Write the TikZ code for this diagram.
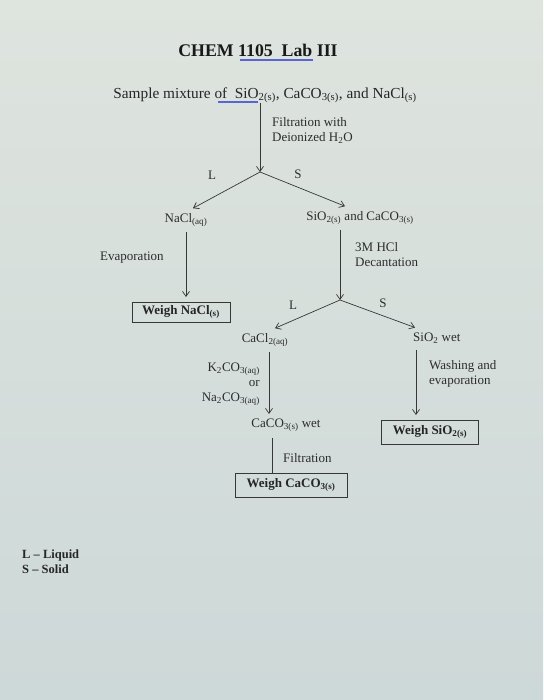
\documentclass[tikz,border=0pt]{standalone}
\usepackage{fontspec}
\setmainfont{Liberation Serif}
\usetikzlibrary{arrows.meta}
\definecolor{bg}{RGB}{222,228,222}
\definecolor{bgb}{RGB}{205,216,216}
\definecolor{ink}{RGB}{55,55,55}
\definecolor{spell}{RGB}{90,100,210}
\tikzset{
  lbl/.style={inner sep=0pt, text=ink!80!black, font=\fontsize{13}{15}\selectfont},
  main/.style={inner sep=0pt, text=black!85, font=\fontsize{15.3}{17}\selectfont},
  wbox/.style={draw=ink, line width=0.8pt, minimum height=20pt, inner xsep=6pt, text=black!85, font=\bfseries\fontsize{13}{15}\selectfont},
  flow/.style={draw=ink, line width=0.7pt, -{Straight Barb[length=5pt,width=7pt]}},
  plain/.style={draw=ink, line width=0.7pt},
}
\begin{document}
\begin{tikzpicture}[x=1pt,y=-1pt]
\shade[top color=bg, bottom color=bgb] (0,0) rectangle (543,700);
\useasboundingbox (0,0) rectangle (543,700);

\node[inner sep=0pt, text=black!90, font=\bfseries\fontsize{17.8}{20}\selectfont] (title) at (258,50) {CHEM 1105\ \ Lab III};
\draw[spell, line width=1.6pt] (240,60) -- (313,60);

\node[main] (mix) at (265,95) {Sample mixture of\ \ SiO\textsubscript{2(s)}, CaCO\textsubscript{3(s)}, and NaCl\textsubscript{(s)}};
\draw[spell, line width=1.4pt] (218,102) -- (258,102);

\coordinate (j1) at (260,172);
\draw[flow] (260,103) -- (j1);
\node[lbl, anchor=north west, align=left] (filt) at (272,117) {Filtration with\\Deionized H\textsubscript{2}O};
\node[lbl] (L1) at (212,175) {L};
\node[lbl] (S1) at (298,174) {S};

\node[lbl] (nacl) at (186,220) {NaCl\textsubscript{(aq)}};
\node[lbl] (sc) at (360,218) {SiO\textsubscript{2(s)} and CaCO\textsubscript{3(s)}};
\draw[flow] (j1) -- ([xshift=7pt,yshift=5pt]nacl.north);
\draw[flow] (j1) -- ([xshift=-15pt,yshift=5pt]sc.north);

\node[lbl, anchor=west] (evap) at (100,258) {Evaporation};
\node[wbox, minimum width=98pt] (wnacl) at (181,312) {Weigh NaCl\textsubscript{(s)}};
\draw[flow] (186,232) -- (186,297);

\node[lbl, anchor=north west, align=left] (hcl) at (355,242) {3M HCl\\Decantation};
\coordinate (j2) at (340,300);
\draw[flow] (340,230) -- (j2);
\node[lbl] (L2) at (293,305) {L};
\node[lbl] (S2) at (383,303) {S};

\node[lbl] (cacl) at (265,340) {CaCl\textsubscript{2(aq)}};
\node[lbl, anchor=west] (swet) at (413,338) {SiO\textsubscript{2} wet};
\draw[flow] (j2) -- ([xshift=10pt,yshift=5pt]cacl.north);
\draw[flow] (j2) -- ([xshift=2pt,yshift=5pt]swet.north west);

\node[lbl, anchor=east, align=right] (reag) at (260,384) {K\textsubscript{2}CO\textsubscript{3(aq)}\\or\\Na\textsubscript{2}CO\textsubscript{3(aq)}};
\node[lbl] (cwet) at (286,425) {CaCO\textsubscript{3(s)} wet};
\draw[flow] (269,352) -- (269,414);

\node[lbl, anchor=north west, align=left] (wash) at (429,360) {Washing and\\evaporation};
\node[wbox, minimum width=97pt, minimum height=24pt] (wsio) at (430,432) {Weigh SiO\textsubscript{2(s)}};
\draw[flow] (416,350) -- (416,415);

\node[lbl, anchor=west] (filt2) at (283,458) {Filtration};
\node[wbox, minimum width=112pt, minimum height=24pt] (wcac) at (291,485) {Weigh CaCO\textsubscript{3(s)}};
\draw[plain] (272,438) -- (wcac.north -| 272,438);

\node[inner sep=0pt, anchor=north west, align=left, text=black!85, font=\bfseries\fontsize{12.5}{15}\selectfont] (legend) at (22,550) {L -- Liquid\\S -- Solid};
\end{tikzpicture}
\end{document}
